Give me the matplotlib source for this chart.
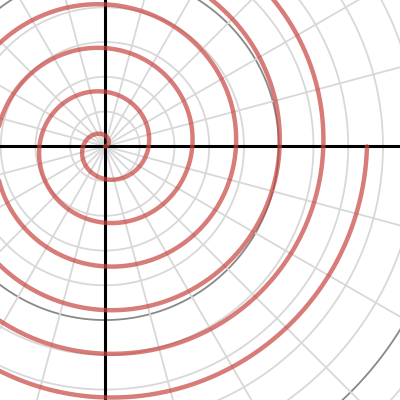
import numpy as np
import matplotlib
matplotlib.use("Agg")
import matplotlib.pyplot as plt

theta_max = 12 * np.pi
xlim = (-15.1, 42.45)
ylim = (-36.5, 21.05)
minor_step = 5
major_step = 25
ray_step_deg = 15

fig = plt.figure(figsize=(4, 4), dpi=100)
ax = fig.add_axes([0, 0, 1, 1])
ax.set_xlim(*xlim); ax.set_ylim(*ylim)
ax.set_aspect('equal'); ax.axis('off')

t = np.linspace(0, 2*np.pi, 720)
for r in np.arange(minor_step, 80, minor_step):
    if r % major_step == 0:
        ax.plot(r*np.cos(t), r*np.sin(t), color='#888888', lw=1.3, zorder=1)
    else:
        ax.plot(r*np.cos(t), r*np.sin(t), color='#d8d8d8', lw=1.3, zorder=1)
for a in np.deg2rad(np.arange(0, 360, ray_step_deg)):
    ax.plot([0, 80*np.cos(a)], [0, 80*np.sin(a)], color='#d8d8d8', lw=1.3, zorder=1)
ax.axhline(0, color='black', lw=2.2, zorder=2)
ax.axvline(0, color='black', lw=2.2, zorder=2)

th = np.linspace(0, theta_max, 4000)
r = th
ax.plot(r*np.cos(th), r*np.sin(th), color='#c74440', alpha=0.7, lw=3.2,
        solid_capstyle='round', zorder=3)
fig.savefig('out.png', dpi=100)
